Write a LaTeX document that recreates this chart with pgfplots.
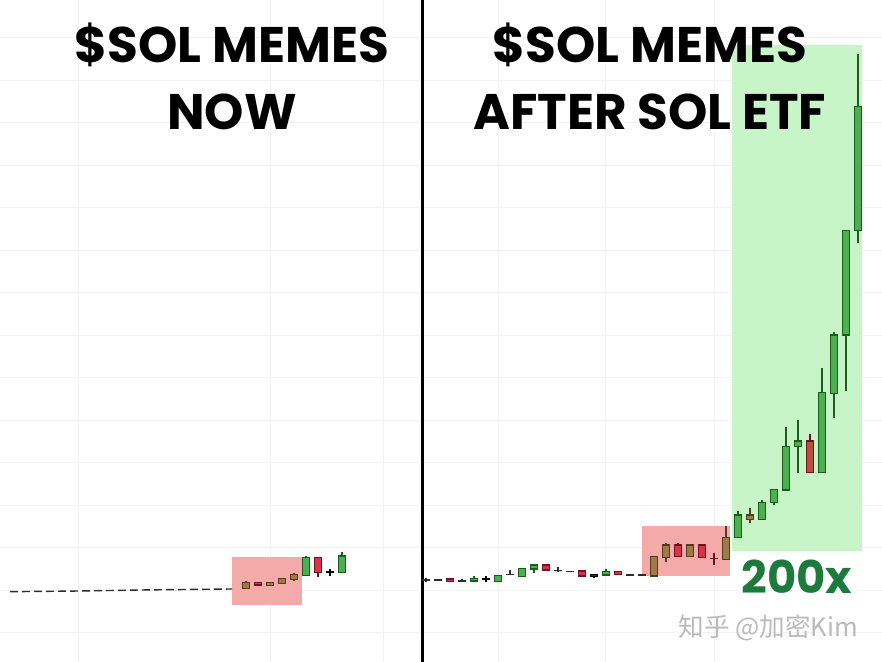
\documentclass[border=0pt]{standalone}
\usepackage{pgfplots}
\pgfplotsset{compat=1.18}
\usepgfplotslibrary{statistics}
\usepackage{fontspec}
\newfontfamily\titlefont{Poppins}
\newfontfamily\cjk{Noto Sans CJK SC}
\definecolor{cgreen}{RGB}{76,175,80}
\definecolor{cgreenD}{RGB}{25,95,25}
\definecolor{cred}{RGB}{222,50,70}
\definecolor{credD}{RGB}{110,20,30}
\definecolor{colive}{RGB}{160,122,70}
\definecolor{coliveD}{RGB}{85,60,30}
\definecolor{crbrown}{RGB}{182,82,58}
\definecolor{cdark}{RGB}{45,45,45}
\definecolor{pinkbox}{RGB}{245,170,170}
\definecolor{greenbox}{RGB}{200,245,200}
\definecolor{txtgreen}{RGB}{30,122,60}
\definecolor{gridc}{RGB}{242,242,242}
% \candle{x}{wick low}{body low}{body high}{wick high}{fill}{draw}
\newcommand{\candle}[7]{%
  \addplot[boxplot/draw direction=y, boxplot prepared={draw position=#1, lower whisker=#2,
    lower quartile=#3, median=#3, upper quartile=#4, upper whisker=#5,
    box extend=7.5, whisker extend=0}, draw=#7, fill=#6, line width=0.65pt]
    coordinates {};}
\begin{document}
\begin{tikzpicture}
\begin{axis}[
  width=441pt, height=331pt, scale only axis,
  xmin=0, xmax=882, ymin=0, ymax=662,
  axis line style={draw=none}, tick style={draw=none},
  xtick={78,270,383,498,605,714},
  ytick={29,71.6,114,156.6,199,241.6,284,326.6,369,411.6,454,496.6,539,581.6,624},
  xticklabels={}, yticklabels={},
  grid=major, grid style={line width=0.5pt, color=gridc},
  boxplot/draw direction=y,
]
% highlight areas
\addplot[draw=none, fill=pinkbox] coordinates {(232,57) (302,57) (302,105) (232,105)} -- cycle;
\addplot[draw=none, fill=pinkbox] coordinates {(642,86) (730,86) (730,136) (642,136)} -- cycle;
\addplot[draw=none, fill=greenbox] coordinates {(732,111) (862,111) (862,617) (732,617)} -- cycle;
% divider
\addplot[black, line width=1.5pt] coordinates {(422,0) (422,662)};
% left panel: flat history
\addplot[cdark, line width=0.7pt, dash pattern=on 4pt off 2pt] coordinates {(10,70.3) (80,71) (140,72) (232,73)};
\candle{246}{73.7}{73.7}{79.3}{81.3}{colive}{coliveD}
\candle{258}{77}{77}{79.3}{79.3}{crbrown}{credD}
\candle{270}{76.7}{76.7}{79.3}{79.3}{colive}{coliveD}
\candle{282}{78.7}{78.7}{83.3}{83.3}{colive}{coliveD}
\candle{294}{81.3}{82.7}{87.3}{89}{colive}{coliveD}
\candle{306}{86.3}{86.3}{104.3}{106}{cgreen}{cgreenD}
\candle{318}{84.7}{89.7}{104.3}{104.3}{cred}{credD}
\candle{330}{86.3}{90}{90}{93}{black}{black}
\candle{342}{89.7}{89.7}{106}{110.3}{cgreen}{cgreenD}
% right panel
\candle{426}{80}{82}{82}{84}{black}{cdark}
\candle{438}{82}{82}{82}{82}{black}{cdark}
\candle{450}{80.3}{80.3}{83}{83}{cred}{credD}
\candle{462}{81}{81}{81}{83}{black}{cdark}
\candle{474}{81}{81}{83.7}{86}{cgreen}{cgreenD}
\candle{486}{80.3}{83}{83}{86}{black}{black}
\candle{498}{80.3}{80.3}{86.3}{86.3}{cgreen}{cgreenD}
\candle{510}{87.7}{87.7}{87.7}{92}{black}{cdark}
\candle{522}{85.7}{85.7}{93.7}{93.7}{cgreen}{cgreenD}
\candle{534}{88.7}{93}{97}{97}{cgreen}{cgreenD}
\candle{546}{92}{92}{97}{97}{cred}{credD}
\candle{558}{90}{91.3}{91.3}{95}{black}{cdark}
\candle{570}{90.7}{90.7}{90.7}{90.7}{black}{cdark}
\candle{582}{86}{86}{91}{91}{cred}{credD}
\candle{594}{84}{85.3}{87.7}{87.7}{cdark}{black}
\candle{606}{86}{87}{90.3}{93}{cgreen}{cgreenD}
\candle{618}{87.7}{87.7}{90.3}{90.3}{cred}{credD}
\candle{630}{87}{87}{87}{87}{black}{cdark}
\candle{642}{87}{87}{87}{87}{black}{cdark}
\candle{654}{86}{86}{105.3}{105.3}{colive}{coliveD}
\candle{666}{100.3}{104.7}{117}{119}{colive}{coliveD}
\candle{678}{105.3}{105.3}{117}{119.3}{cred}{credD}
\candle{690}{105.3}{105.3}{117}{117}{colive}{coliveD}
\candle{702}{104.7}{104.7}{117}{117}{cred}{credD}
\candle{714}{97}{103.7}{103.7}{109}{black}{credD}
\candle{726}{102.7}{102.7}{124.7}{136}{colive}{coliveD}
\candle{738}{124.3}{124.3}{147}{151}{cgreen}{cgreenD}
\candle{750}{139.3}{142.7}{147}{153.7}{colive}{coliveD}
\candle{762}{142.7}{142.7}{159.7}{162}{cgreen}{cgreenD}
\candle{774}{157}{159.3}{172.7}{172.7}{cgreen}{cgreenD}
\candle{786}{172}{172}{215.3}{235.3}{cgreen}{cgreenD}
\candle{798}{188.7}{215.3}{221}{242}{cgreen}{cgreenD}
\candle{810}{189.7}{189.7}{221}{228}{crbrown}{credD}
\candle{822}{189.7}{189.7}{269.3}{293.7}{cgreen}{cgreenD}
\candle{834}{243.7}{268.7}{327}{330.3}{cgreen}{cgreenD}
\candle{846}{271.3}{327}{431.3}{431.3}{cgreen}{cgreenD}
\candle{858}{418.7}{431.3}{555.3}{608}{cgreen}{cgreenD}
% titles
\node[font=\titlefont\bfseries\fontsize{25}{30}\selectfont, anchor=base] at (axis cs:232,599) {\$SOL MEMES};
\node[font=\titlefont\bfseries\fontsize{25}{30}\selectfont, anchor=base] at (axis cs:232,532) {NOW};
\node[font=\titlefont\bfseries\fontsize{25}{30}\selectfont, anchor=base] at (axis cs:650,599) {\$SOL MEMES};
\node[font=\titlefont\bfseries\fontsize{25}{30}\selectfont, anchor=base] at (axis cs:650,532) {AFTER SOL ETF};
\node[font=\titlefont\bfseries\fontsize{22.5}{27}\selectfont, text=txtgreen, anchor=base] at (axis cs:797,68) {200x};
\node[font=\cjk\fontsize{12.8}{16}\selectfont, text=white, anchor=base west, inner sep=0pt] at (axis cs:679,24) {知乎 @加密Kim};
\node[font=\cjk\fontsize{12.8}{16}\selectfont, text=black!27, anchor=base west, inner sep=0pt] at (axis cs:678,25) {知乎 @加密Kim};
\end{axis}
\pgfresetboundingbox
\useasboundingbox (current axis.south west) rectangle (current axis.north east);
\end{tikzpicture}
\end{document}
